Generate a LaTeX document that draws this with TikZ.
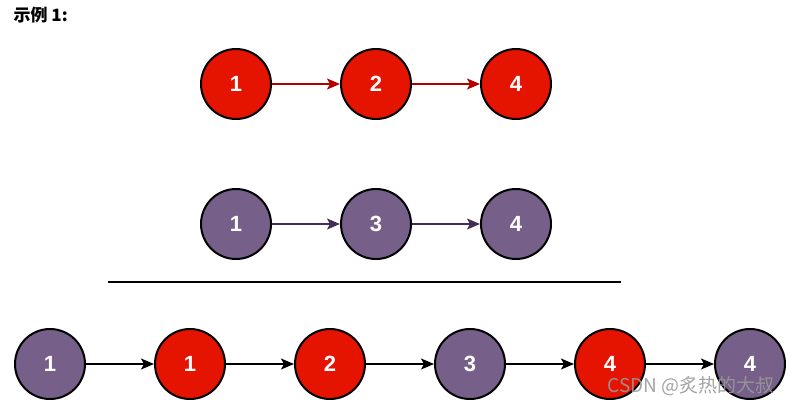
\documentclass[tikz,border=0pt]{standalone}
\usepackage{fontspec}
\usetikzlibrary{arrows.meta}
\setmainfont{Liberation Sans}
\newfontfamily\cjk{Noto Sans CJK SC}
\definecolor{nodered}{HTML}{E51400}
\definecolor{nodepurple}{HTML}{76608A}
\definecolor{arrowred}{HTML}{B20000}
\definecolor{arrowpurple}{HTML}{432D57}
\tikzset{
    listnode/.style={circle,draw=black,line width=2pt,minimum size=70pt,inner sep=0pt,
        text=white,font=\bfseries\fontsize{22}{22}\selectfont},
    rednode/.style={listnode,fill=nodered},
    purplenode/.style={listnode,fill=nodepurple},
    link/.style={-{Stealth[length=13pt,width=11pt,inset=3pt]},line width=1.4pt}
}
\begin{document}
\begin{tikzpicture}[x=1pt,y=-1pt]
            \useasboundingbox (0,0) rectangle (793,408);
            \node[anchor=west,font=\cjk\bfseries\fontsize{17}{17}\selectfont] (title) at (10,15) {示例 1:};
            % first list
            \node[rednode] (a1) at (236,84) {1};
            \node[rednode] (a2) at (376,84) {2};
            \node[rednode] (a3) at (516,84) {4};
            \draw[link,arrowred] (a1) -- (a2);
            \draw[link,arrowred] (a2) -- (a3);
            % second list
            \node[purplenode] (b1) at (236,224) {1};
            \node[purplenode] (b2) at (376,224) {3};
            \node[purplenode] (b3) at (516,224) {4};
            \draw[link,arrowpurple] (b1) -- (b2);
            \draw[link,arrowpurple] (b2) -- (b3);
            \draw[line width=1.8pt] (108,282) coordinate (lineL) -- (621,282) coordinate (lineR);
            % merged list
            \node[purplenode] (c1) at (50,364) {1};
            \node[rednode] (c2) at (190,364) {1};
            \node[rednode] (c3) at (330,364) {2};
            \node[purplenode] (c4) at (470,364) {3};
            \node[rednode] (c5) at (610,364) {4};
            \node[purplenode] (c6) at (750,364) {4};
            \draw[link] (c1) -- (c2);
            \draw[link] (c2) -- (c3);
            \draw[link] (c3) -- (c4);
            \draw[link] (c4) -- (c5);
            \draw[link] (c5) -- (c6);
            \node[anchor=east,text=black!40,opacity=0.9,font=\cjk\fontsize{19}{19}\selectfont] (mark) at (778,386) {CSDN @炙热的大叔};
        \end{tikzpicture}
\end{document}
